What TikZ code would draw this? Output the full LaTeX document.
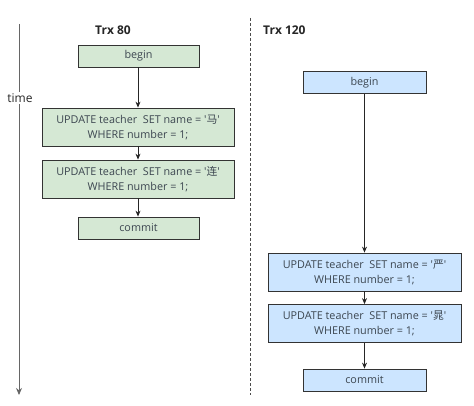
\documentclass[tikz,border=0pt]{standalone}
\usepackage{fontspec}
\setmainfont{Open Sans}
\newfontfamily\cjk{Noto Sans CJK SC}
\usetikzlibrary{arrows.meta}
\definecolor{gfill}{HTML}{D5E8D4}
\definecolor{bfill}{HTML}{CCE5FF}
\definecolor{txt}{HTML}{3C4650}
\newcommand{\q}{\textquotesingle}
\begin{document}
\begin{tikzpicture}[x=1pt,y=-1pt,
  box/.style={draw=black!80, line width=0.8pt, inner sep=0pt, text=txt, font=\fontsize{10.8}{15}\selectfont, align=center},
  gbox/.style={box, fill=gfill},
  bbox/.style={box, fill=bfill},
  conn/.style={draw=black!85, line width=0.8pt, -{Stealth[length=6pt,width=5pt]}},
  ttl/.style={font=\bfseries\fontsize{12}{14}\selectfont, text=black!85}
]
\useasboundingbox (0,0) rectangle (474,406);
% time axis
\coordinate (t0) at (19,24);
\coordinate (t1) at (19,395);
\draw[draw=black!60, line width=1pt, -{Stealth[length=7pt,width=6pt,fill=black!85]}] (t0) -- (t1);
\node[fill=white, inner sep=1.5pt, text=black!85, font=\fontsize{12}{14}\selectfont] (time) at (20,98) {time};
% divider
\coordinate (d0) at (250,18);
\coordinate (d1) at (250,395);
\draw[draw=black!70, line width=0.8pt, dash pattern=on 3pt off 2pt] (d0) -- (d1);
% titles
\node[ttl, anchor=west, inner sep=0pt] (trx80) at (95,30) {Trx 80};
\node[ttl, anchor=west, inner sep=0pt] (trx120) at (263,30) {Trx 120};
% left column
\node[gbox, minimum width=121pt, minimum height=22pt] (lb) at (138.5,56) {begin};
\node[gbox, minimum width=192pt, minimum height=38pt] (lu1) at (138,127) {UPDATE teacher\ \ SET name = \q{\cjk 马}\q\\WHERE number = 1;};
\node[gbox, minimum width=192pt, minimum height=38pt] (lu2) at (138,179) {UPDATE teacher\ \ SET name = \q{\cjk 连}\q\\WHERE number = 1;};
\node[gbox, minimum width=121pt, minimum height=22pt] (lc) at (138.5,228) {commit};
\draw[conn] (lb.south -| lu1.north) -- (lu1.north);
\draw[conn] (lu1) -- (lu2);
\draw[conn] (lu2) -- (lc.north -| lu2.south);
% right column
\node[bbox, minimum width=123pt, minimum height=22pt] (rb) at (364.5,82.5) {begin};
\node[bbox, minimum width=193pt, minimum height=38pt] (ru1) at (364.5,272) {UPDATE teacher\ \ SET name = \q{\cjk 严}\q\\WHERE number = 1;};
\node[bbox, minimum width=193pt, minimum height=38pt] (ru2) at (364.5,323.5) {UPDATE teacher\ \ SET name = \q{\cjk 晁}\q\\WHERE number = 1;};
\node[bbox, minimum width=123pt, minimum height=22pt] (rc) at (364.5,380) {commit};
\draw[conn] (rb) -- (ru1);
\draw[conn] (ru1) -- (ru2);
\draw[conn] (ru2) -- (rc);
\end{tikzpicture}
\end{document}
